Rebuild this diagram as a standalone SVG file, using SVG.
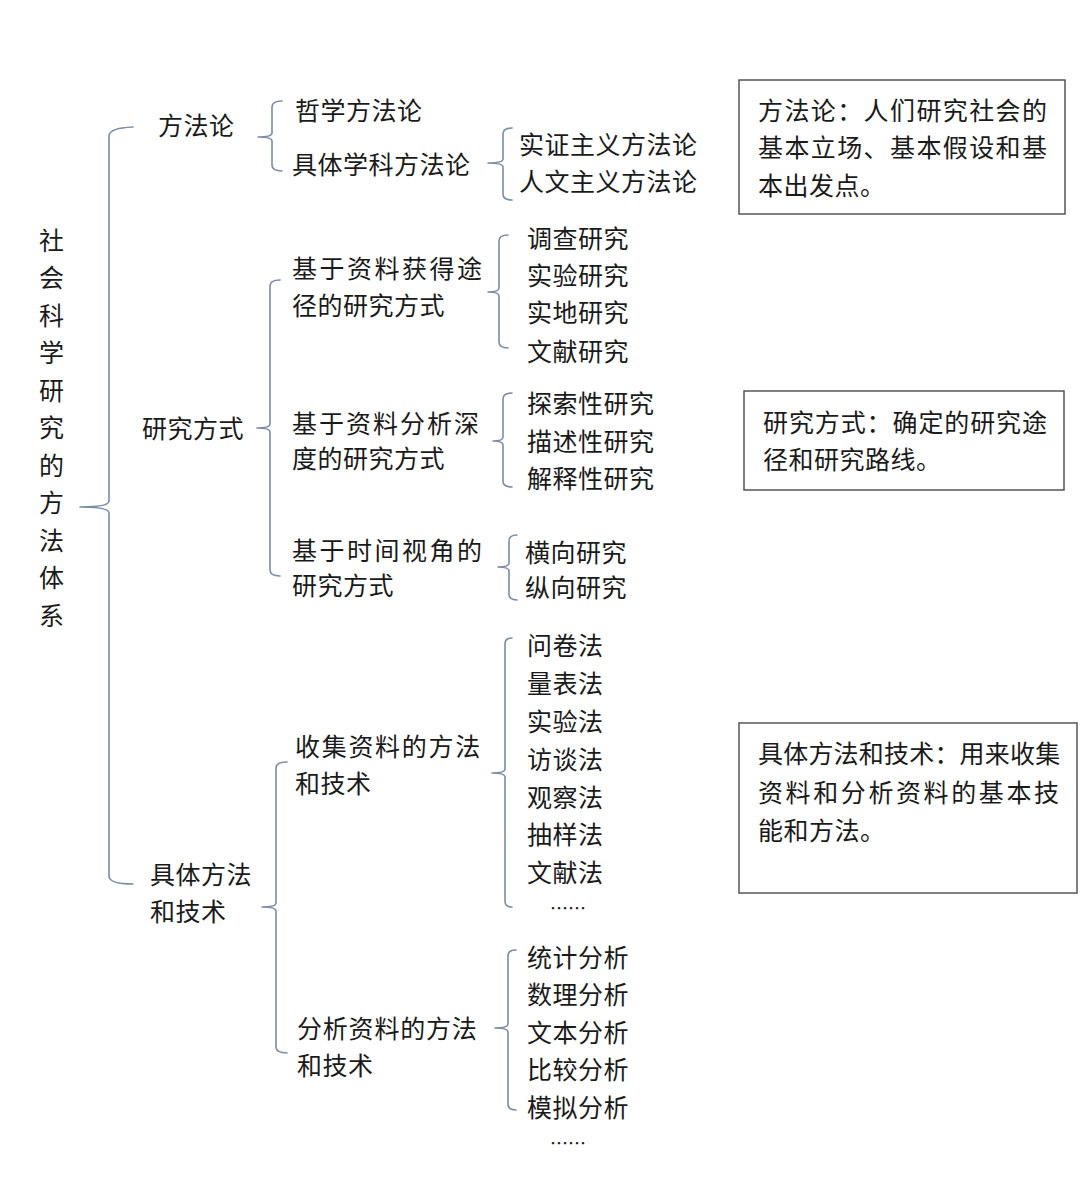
<svg xmlns="http://www.w3.org/2000/svg" width="1080" height="1185" viewBox="0 0 1080 1185">
<style>
text{font-family:"Noto Sans CJK SC","Noto Sans CJK TC",sans-serif;font-size:25px;fill:#1a1a1a;letter-spacing:0.5px}
.br{fill:none;stroke:#7a8ca6;stroke-width:1.6;stroke-linejoin:round;stroke-linecap:round}
.box{fill:#fff;stroke:#555;stroke-width:1.5}
.dots{font-size:18px;letter-spacing:0}
</style>
<rect width="1080" height="1185" fill="#fff"/>
<g id="connectors">
<path class="br" d="M133,127 Q109,128 109,136 L109,501 Q109,507 80,507 Q109,507 109,513 L109,876 Q109,884 133,884"/>
<path class="br" d="M282,101 Q272,101 272,107 L272,133 Q272,137 258,137 Q272,137 272,141 L272,165 Q272,171 282,171"/>
<path class="br" d="M512,128 Q503,128 503,134 L503,159 Q503,163 488,163 Q503,163 503,167 L503,194 Q503,200 512,200"/>
<path class="br" d="M280,280 Q270,280 270,286 L270,424 Q270,428 257,428 Q270,428 270,432 L270,570 Q270,576 280,576"/>
<path class="br" d="M508,235 Q499,235 499,241 L499,288 Q499,292 488,292 Q499,292 499,296 L499,342 Q499,348 508,348"/>
<path class="br" d="M512,393 Q503,393 503,399 L503,437 Q503,441 493,441 Q503,441 503,445 L503,481 Q503,487 512,487"/>
<path class="br" d="M517,535 Q509,535 509,541 L509,563 Q509,567 498,567 Q509,567 509,571 L509,594 Q509,600 517,600"/>
<path class="br" d="M287,762 Q276,762 276,768 L276,903 Q276,907 262,907 Q276,907 276,911 L276,1047 Q276,1053 287,1053"/>
<path class="br" d="M512,638 Q505,638 505,644 L505,769 Q505,773 492,773 Q505,773 505,777 L505,901 Q505,907 512,907"/>
<path class="br" d="M516,950 Q508,950 508,956 L508,1024 Q508,1028 495,1028 Q508,1028 508,1032 L508,1104 Q508,1110 516,1110"/>
</g>
<g id="root">
<text text-anchor="middle" style="letter-spacing:0"><tspan x="51.5" y="249.5">社</tspan><tspan x="51.5" y="287">会</tspan><tspan x="51.5" y="324.5">科</tspan><tspan x="51.5" y="362">学</tspan><tspan x="51.5" y="399.5">研</tspan><tspan x="51.5" y="437">究</tspan><tspan x="51.5" y="474.5">的</tspan><tspan x="51.5" y="512">方</tspan><tspan x="51.5" y="549.5">法</tspan><tspan x="51.5" y="587">体</tspan><tspan x="51.5" y="624.5">系</tspan></text>
</g>
<g id="n-fangfalun"><text x="158" y="134.5">方法论</text></g>
<g id="n-yanjiufangshi"><text x="142" y="437.5">研究方式</text></g>
<g id="n-jutifangfa"><text x="150" y="883.5">具体方法</text><text x="150" y="920.5">和技术</text></g>
<g id="n-zhexue"><text x="295" y="119.5">哲学方法论</text></g>
<g id="n-jutixueke"><text x="292" y="173.5">具体学科方法论</text></g>
<g id="n-shizheng"><text x="519" y="153.5">实证主义方法论</text></g>
<g id="n-renwen"><text x="519" y="190.5">人文主义方法论</text></g>
<g id="n-huode"><text x="292" y="277.5" style="letter-spacing:2.5px">基于资料获得途</text><text x="292" y="314.5">径的研究方式</text></g>
<g id="n-diaocha"><text x="527" y="247.5">调查研究</text></g>
<g id="n-shiyan"><text x="527" y="284.5">实验研究</text></g>
<g id="n-shidi"><text x="527" y="321.5">实地研究</text></g>
<g id="n-wenxian"><text x="527" y="360.5">文献研究</text></g>
<g id="n-shendu"><text x="292" y="432.5" style="letter-spacing:2px">基于资料分析深</text><text x="292" y="467.5">度的研究方式</text></g>
<g id="n-tansuo"><text x="527" y="412.5">探索性研究</text></g>
<g id="n-miaoshu"><text x="527" y="450.5">描述性研究</text></g>
<g id="n-jieshi"><text x="527" y="487.5">解释性研究</text></g>
<g id="n-shijian"><text x="292" y="559.5" style="letter-spacing:2.5px">基于时间视角的</text><text x="292" y="594.5">研究方式</text></g>
<g id="n-hengxiang"><text x="525" y="561.5">横向研究</text></g>
<g id="n-zongxiang"><text x="525" y="596.5">纵向研究</text></g>
<g id="n-shouji"><text x="295" y="755.5" style="letter-spacing:1.7px">收集资料的方法</text><text x="295" y="792.5">和技术</text></g>
<g id="n-wenjuan"><text x="527" y="654.5">问卷法</text></g>
<g id="n-liangbiao"><text x="527" y="692.5">量表法</text></g>
<g id="n-shiyanfa"><text x="527" y="730.5">实验法</text></g>
<g id="n-fangtan"><text x="527" y="768.5">访谈法</text></g>
<g id="n-guancha"><text x="527" y="806.5">观察法</text></g>
<g id="n-chouyang"><text x="527" y="843.5">抽样法</text></g>
<g id="n-wenxianfa"><text x="527" y="881.5">文献法</text></g>
<g id="n-more1"><text class="dots" x="550" y="915">……</text></g>
<g id="n-fenxi"><text x="297" y="1037.5" style="letter-spacing:0.8px">分析资料的方法</text><text x="297" y="1074.5">和技术</text></g>
<g id="n-tongji"><text x="527" y="966.5">统计分析</text></g>
<g id="n-shuli"><text x="527" y="1003.5">数理分析</text></g>
<g id="n-wenben"><text x="527" y="1041.5">文本分析</text></g>
<g id="n-bijiao"><text x="527" y="1078.5">比较分析</text></g>
<g id="n-moni"><text x="527" y="1116.5">模拟分析</text></g>
<g id="n-more2"><text class="dots" x="550" y="1150">……</text></g>
<g id="note-fangfalun">
<rect class="box" x="739" y="80" width="326" height="134"/>
<text x="758" y="119.5" style="letter-spacing:1.4px">方法论：人们研究社会的</text>
<text x="758" y="156.5" style="letter-spacing:1.4px">基本立场、基本假设和基</text>
<text x="758" y="194.5">本出发点。</text>
</g>
<g id="note-yanjiufangshi">
<rect class="box" x="744" y="391" width="320" height="99"/>
<text x="763" y="431.5" style="letter-spacing:0.9px">研究方式：确定的研究途</text>
<text x="763" y="468.5">径和研究路线。</text>
</g>
<g id="note-jutifangfa">
<rect class="box" x="739" y="723" width="338" height="170"/>
<text x="758" y="762.5" style="letter-spacing:0.2px">具体方法和技术：用来收集</text>
<text x="758" y="801.5" style="letter-spacing:2.6px">资料和分析资料的基本技</text>
<text x="758" y="839.5">能和方法。</text>
</g>
</svg>
